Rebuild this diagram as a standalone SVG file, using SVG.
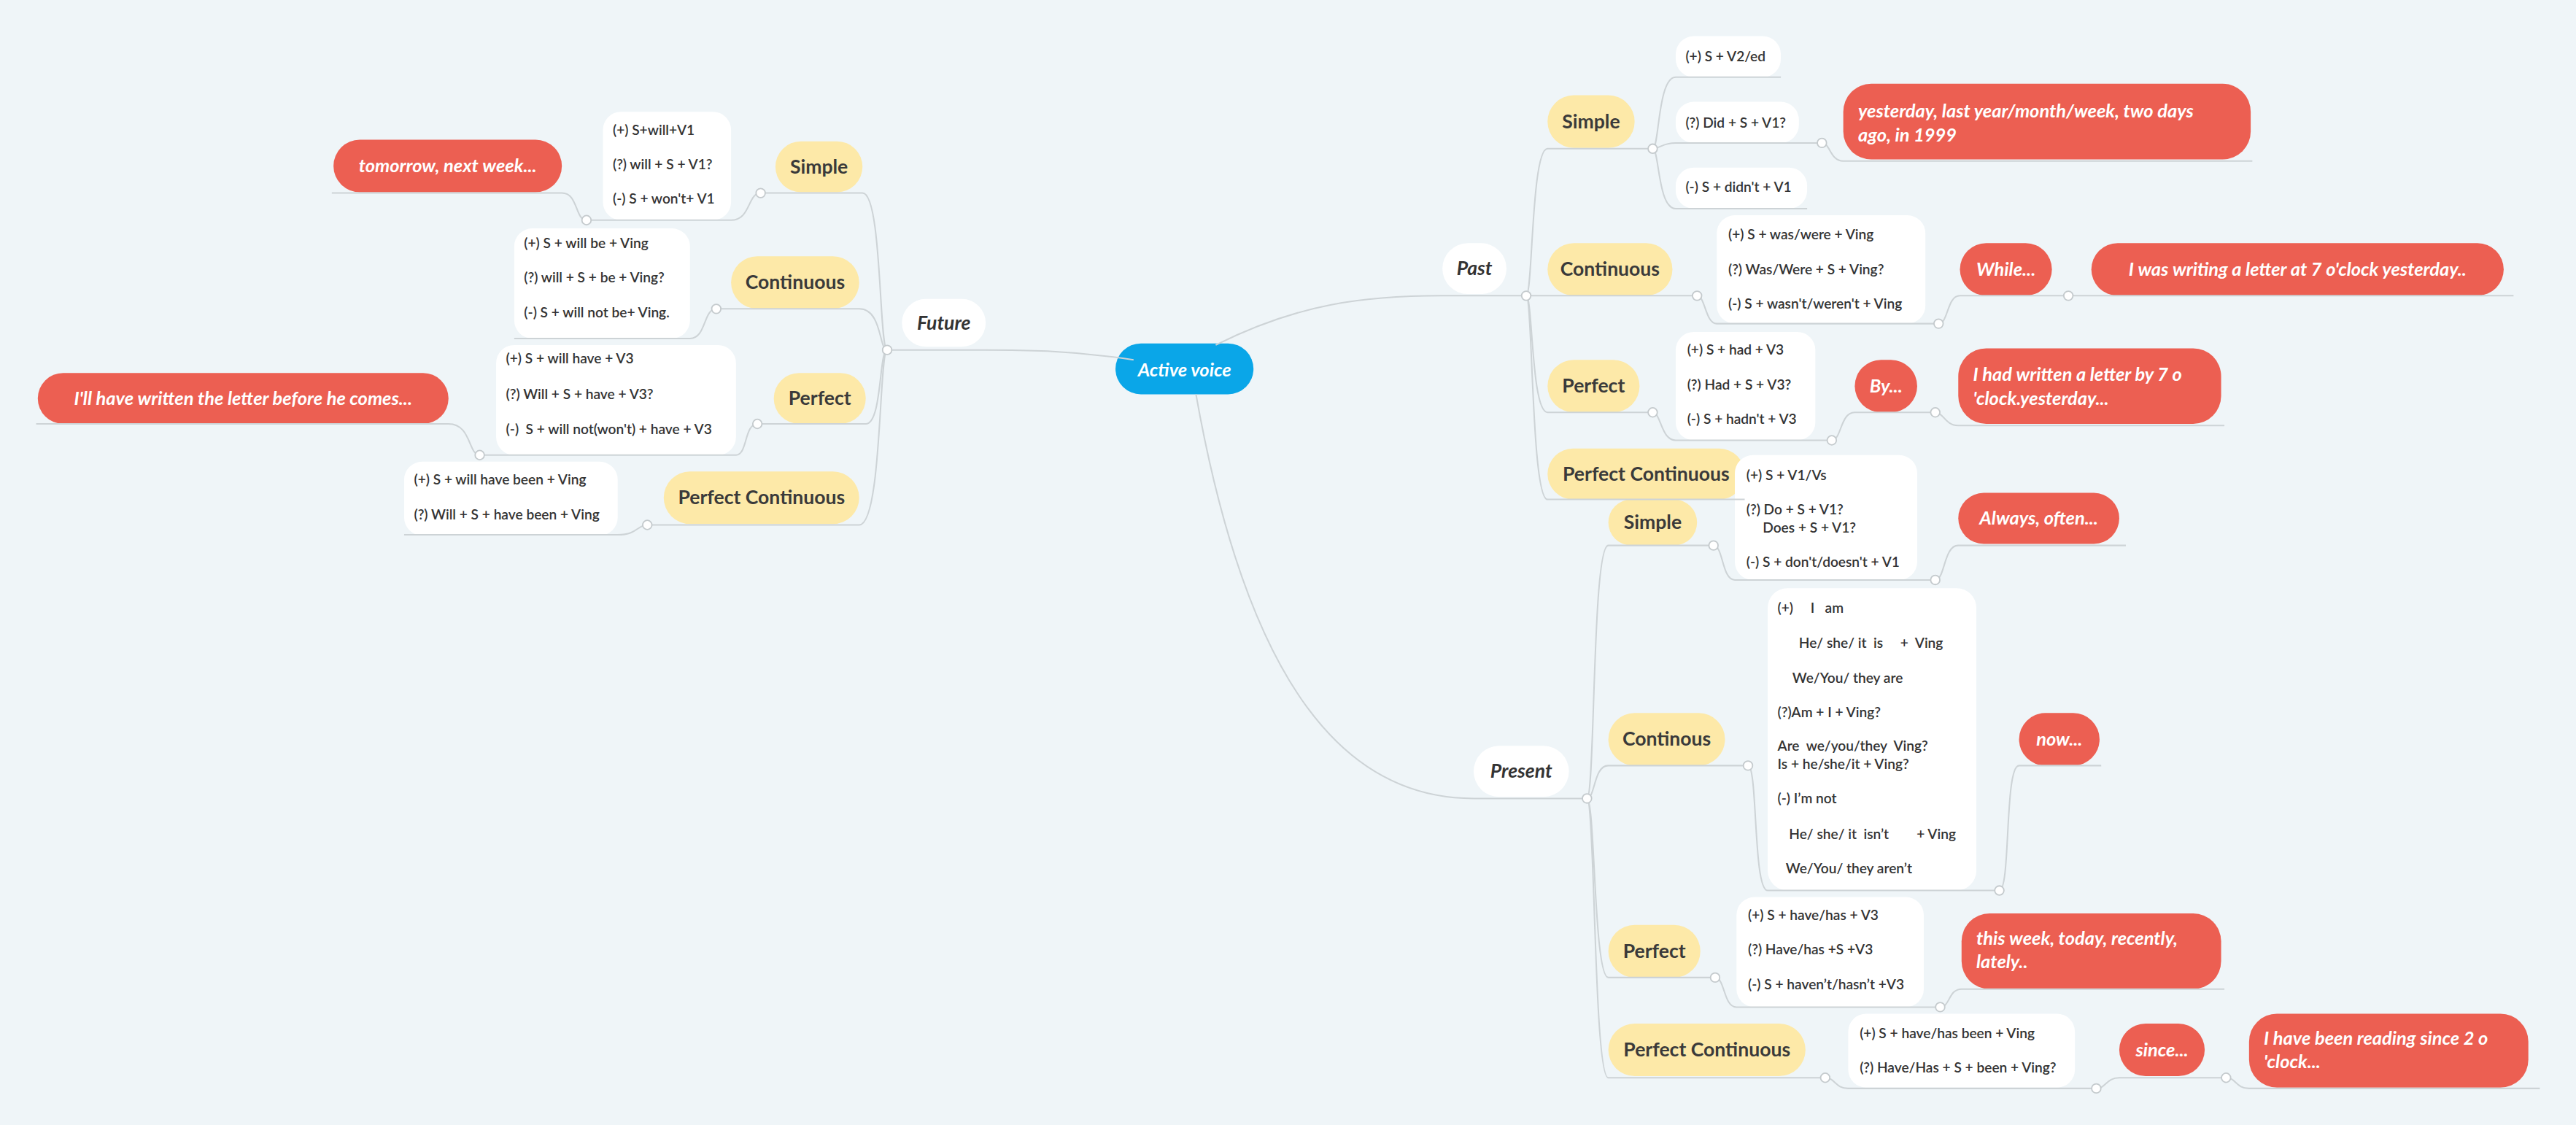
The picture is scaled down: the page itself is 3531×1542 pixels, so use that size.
<svg xmlns="http://www.w3.org/2000/svg" width="3531" height="1542" viewBox="0 0 3531 1542">
<style>
text{font-family:Lato,"Open Sans","Liberation Sans",sans-serif;white-space:pre}
.y{fill:#fde9a8}
.r{fill:#ec5f52}
.w{fill:#ffffff}
.yt{font-size:11.8px;font-weight:700;fill:#3a3a3a;text-anchor:middle}
.rt{font-size:11.3px;font-weight:700;font-style:italic;fill:#ffffff}
.rc{text-anchor:middle}
.ft{font-size:8.5px;font-weight:600;fill:#333333}
.mt{font-size:11.8px;font-weight:700;font-style:italic;fill:#333333;text-anchor:middle}
.c path{fill:none;stroke:#cdd3d6;stroke-width:0.9}
.j circle{fill:#ffffff;stroke:#c4cacd;stroke-width:0.8}
</style>
<rect width="3531" height="1542" fill="#eff5f8"/>
<g transform="scale(2.2519)">
<g id="center"><rect x="679" y="209" width="84" height="31" rx="15.5" fill="#0aa6e8"/><text x="721" y="229" class="rt rc" font-size="12.3">Active voice</text></g>

<g id="future"><rect x="549" y="182" width="51" height="29" rx="14.5" class="w"/><text x="574.5" y="200.5" class="mt">Future</text></g>
<g id="f-simple"><rect x="472" y="86" width="53" height="31" rx="15.5" class="y"/><text x="498.5" y="105.5" class="yt">Simple</text></g>
<g id="f-cont"><rect x="445" y="156" width="78" height="32" rx="16" class="y"/><text x="484" y="176" class="yt">Continuous</text></g>
<g id="f-perf"><rect x="471" y="227" width="56" height="31" rx="15.5" class="y"/><text x="499" y="246.5" class="yt">Perfect</text></g>
<g id="f-pc"><rect x="404" y="287" width="119" height="32" rx="16" class="y"/><text x="463.5" y="307" class="yt">Perfect Continuous</text></g>
<g id="f-simple-f"><rect x="367" y="68" width="78" height="66" rx="11" class="w"/><text x="373" y="82" class="ft">(+) S+will+V1</text><text x="373" y="103" class="ft">(?) will + S + V1?</text><text x="373" y="124" class="ft">(-) S + won't+ V1</text></g>
<g id="f-cont-f"><rect x="313" y="139" width="107" height="67" rx="11" class="w"/><text x="319" y="151" class="ft">(+) S + will be + Ving</text><text x="319" y="172" class="ft">(?) will + S + be + Ving?</text><text x="319" y="193" class="ft">(-) S + will not be+ Ving.</text></g>
<g id="f-perf-f"><rect x="302" y="210" width="146" height="67" rx="11" class="w"/><text x="308" y="221" class="ft">(+) S + will have + V3</text><text x="308" y="243" class="ft">(?) Will + S + have + V3?</text><text x="308" y="264" class="ft">(-)  S + will not(won't) + have + V3</text></g>
<g id="f-pc-f"><rect x="246" y="281" width="130" height="45" rx="11" class="w"/><text x="252" y="295" class="ft">(+) S + will have been + Ving</text><text x="252" y="316" class="ft">(?) Will + S + have been + Ving</text></g>
<g id="f-ex1"><rect x="203" y="85" width="139" height="32" rx="16" class="r"/><text x="272.5" y="105" class="rt rc">tomorrow, next week...</text></g>
<g id="f-ex2"><rect x="23" y="227" width="250" height="31" rx="15.5" class="r"/><text x="148" y="246.5" class="rt rc">I'll have written the letter before he comes...</text></g>

<g id="past"><rect x="878" y="148" width="39" height="31" rx="15.5" class="w"/><text x="897.5" y="167.5" class="mt">Past</text></g>
<g id="p-simple"><rect x="942" y="58" width="53" height="32" rx="16" class="y"/><text x="968.5" y="78" class="yt">Simple</text></g>
<g id="p-cont"><rect x="942" y="148" width="76" height="32" rx="16" class="y"/><text x="980" y="168" class="yt">Continuous</text></g>
<g id="p-perf"><rect x="942" y="219" width="56" height="32" rx="16" class="y"/><text x="970" y="239" class="yt">Perfect</text></g>
<g id="p-pc"><rect x="942" y="273" width="120" height="31" rx="15.5" class="y"/><text x="1002" y="292.5" class="yt">Perfect Continuous</text></g>
<g id="p-s1"><rect x="1020" y="22" width="64" height="25" rx="11" class="w"/><text x="1026" y="37.5" class="ft">(+) S + V2/ed</text></g>
<g id="p-s2"><rect x="1020" y="62" width="75" height="25" rx="11" class="w"/><text x="1026" y="77.5" class="ft">(?) Did + S + V1?</text></g>
<g id="p-s3"><rect x="1020" y="102" width="80" height="25" rx="11" class="w"/><text x="1026" y="117" class="ft">(-) S + didn't + V1</text></g>
<g id="p-cont-f"><rect x="1045" y="131" width="127" height="66" rx="11" class="w"/><text x="1052" y="145.5" class="ft">(+) S + was/were + Ving</text><text x="1052" y="167" class="ft">(?) Was/Were + S + Ving?</text><text x="1052" y="188" class="ft">(-) S + wasn't/weren't + Ving</text></g>
<g id="p-perf-f"><rect x="1020" y="202" width="85" height="66" rx="11" class="w"/><text x="1027" y="216" class="ft">(+) S + had + V3</text><text x="1027" y="237" class="ft">(?) Had + S + V3?</text><text x="1027" y="258" class="ft">(-) S + hadn't + V3</text></g>
<g id="p-ex1"><rect x="1122" y="51" width="248" height="46" rx="17" class="r"/><text x="1131" y="71.5" class="rt">yesterday, last year/month/week, two days</text><text x="1131" y="86" class="rt">ago, in 1999</text></g>
<g id="p-while"><rect x="1193" y="148" width="56" height="32" rx="16" class="r"/><text x="1221" y="168" class="rt rc">While...</text></g>
<g id="p-ex2"><rect x="1273" y="148" width="251" height="32" rx="16" class="r"/><text x="1398.5" y="168" class="rt rc">I was writing a letter at 7 o'clock yesterday..</text></g>
<g id="p-by"><rect x="1129" y="219" width="38" height="32" rx="16" class="r"/><text x="1148" y="239" class="rt rc">By...</text></g>
<g id="p-ex3"><rect x="1192" y="212" width="160" height="46" rx="17" class="r"/><text x="1201" y="232" class="rt">I had written a letter by 7 o</text><text x="1201" y="246.5" class="rt">'clock.yesterday...</text></g>

<g id="present"><rect x="897" y="454" width="58" height="31" rx="15.5" class="w"/><text x="926" y="473.5" class="mt">Present</text></g>
<g id="r-simple"><rect x="979" y="304" width="54" height="28" rx="14" class="y"/><text x="1006" y="322" class="yt">Simple</text></g>
<g id="r-cont"><rect x="979" y="434" width="71" height="32" rx="16" class="y"/><text x="1014.5" y="454" class="yt">Continous</text></g>
<g id="r-perf"><rect x="979" y="563" width="56" height="32" rx="16" class="y"/><text x="1007" y="583" class="yt">Perfect</text></g>
<g id="r-pc"><rect x="979" y="623" width="120" height="32" rx="16" class="y"/><text x="1039" y="643" class="yt">Perfect Continuous</text></g>
<g id="r-simple-f"><rect x="1056" y="277" width="111" height="76" rx="11" class="w"/><text x="1063" y="292" class="ft">(+) S + V1/Vs</text><text x="1063" y="313" class="ft">(?) Do + S + V1?</text><text x="1073" y="324" class="ft">Does + S + V1?</text><text x="1063" y="345" class="ft">(-) S + don't/doesn't + V1</text></g>
<g id="r-cont-f"><rect x="1076" y="358" width="127" height="184" rx="12" class="w"/>
<text x="1082" y="373" class="ft">(+)     I   am</text>
<text x="1095" y="394.5" class="ft">He/ she/ it  is     +  Ving</text>
<text x="1091" y="415.5" class="ft">We/You/ they are</text>
<text x="1082" y="436.5" class="ft">(?)Am + I + Ving?</text>
<text x="1082" y="457" class="ft">Are  we/you/they  Ving?</text>
<text x="1082" y="468" class="ft">Is + he/she/it + Ving?</text>
<text x="1082" y="489" class="ft">(-) I’m not</text>
<text x="1089" y="510.5" class="ft">He/ she/ it  isn’t        + Ving</text>
<text x="1087" y="531.5" class="ft">We/You/ they aren’t</text></g>
<g id="r-perf-f"><rect x="1057" y="546" width="114" height="67" rx="11" class="w"/><text x="1064" y="560" class="ft">(+) S + have/has + V3</text><text x="1064" y="581" class="ft">(?) Have/has +S +V3</text><text x="1064" y="602" class="ft">(-) S + haven’t/hasn’t +V3</text></g>
<g id="r-pc-f"><rect x="1125" y="617" width="138" height="45" rx="11" class="w"/><text x="1132" y="632" class="ft">(+) S + have/has been + Ving</text><text x="1132" y="653" class="ft">(?) Have/Has + S + been + Ving?</text></g>
<g id="r-ex1"><rect x="1192" y="300" width="98" height="31" rx="15.5" class="r"/><text x="1241" y="319.5" class="rt rc">Always, often...</text></g>
<g id="r-now"><rect x="1229" y="434" width="49" height="32" rx="16" class="r"/><text x="1253.5" y="454" class="rt rc">now...</text></g>
<g id="r-ex2"><rect x="1194" y="556" width="158" height="46" rx="17" class="r"/><text x="1203" y="575" class="rt">this week, today, recently,</text><text x="1203" y="589.5" class="rt">lately..</text></g>
<g id="r-since"><rect x="1290" y="623" width="52" height="32" rx="16" class="r"/><text x="1316" y="643" class="rt rc">since...</text></g>
<g id="r-ex3"><rect x="1369" y="617" width="170" height="45" rx="17" class="r"/><text x="1378" y="636" class="rt">I have been reading since 2 o</text><text x="1378" y="650" class="rt">'clock...</text></g>

<g id="connectors" class="c">
<path d="M690,219 C650,213 620,213 600,213 L540,213"/>
<path d="M740,210 C790,185 830,180 878,180 L929,180"/>
<path d="M728,240 C760,420 820,486 897,486 L966,486"/>
<path d="M540,213 C535,213 537,117.5 525,117.5 L463,117.5"/>
<path d="M540,213 C535,213 537,188 523,188 L436,188"/>
<path d="M540,213 C535,213 537,258 527,258 L461,258"/>
<path d="M540,213 C535,213 537,319.5 523,319.5 L394,319.5"/>
<path d="M463,117.5 C455,117.5 457,134 445,134 L357,134"/>
<path d="M357,134 C350,134 352,117.5 342,117.5 L202,117.5"/>
<path d="M436,188 C428,188 430,206 420,206 L313,206"/>
<path d="M461,258 C453,258 455,277 448,277 L292,277"/>
<path d="M292,277 C285,277 287,258 273,258 L22,258"/>
<path d="M394,319.5 C388,319.5 388,325.5 376,325.5 L246,325.5"/>
<path d="M929,180 C933,180 932,90.5 942,90.5 L1006,90.5"/>
<path d="M929,180 L1033,180"/>
<path d="M929,180 C933,180 932,251 942,251 L1006,251"/>
<path d="M929,180 C933,180 932,304 942,304 L1062,304"/>
<path d="M1006,90.5 C1010,90.5 1009,47 1020,47 L1084,47"/>
<path d="M1006,90.5 C1010,90.5 1012,87 1020,87 L1109,87"/>
<path d="M1006,90.5 C1010,90.5 1009,127 1020,127 L1100,127"/>
<path d="M1109,87 C1114,87 1114,98 1122,98 L1371,98"/>
<path d="M1033,180 C1038,180 1038,197 1045,197 L1180,197"/>
<path d="M1180,197 C1186,197 1185,180 1193,180 L1259,180"/>
<path d="M1259,180 L1530,180"/>
<path d="M1006,251 C1011,251 1011,268 1020,268 L1115,268"/>
<path d="M1115,268 C1121,268 1120,251 1129,251 L1178,251"/>
<path d="M1178,251 C1183,251 1184,259 1192,259 L1354,259"/>
<path d="M966,486 C971,486 969,332 979,332 L1043,332"/>
<path d="M966,486 C971,486 970,466 979,466 L1064,466"/>
<path d="M966,486 C971,486 970,595 979,595 L1044,595"/>
<path d="M966,486 C971,486 970,656 979,656 L1111,656"/>
<path d="M1043,332 C1049,332 1048,353 1056,353 L1178,353"/>
<path d="M1178,353 C1184,353 1183,332 1192,332 L1294,332"/>
<path d="M1064,466 C1070,466 1067,542 1076,542 L1217,542"/>
<path d="M1217,542 C1224,542 1220,466 1229,466 L1279,466"/>
<path d="M1044,595 C1050,595 1049,613 1057,613 L1181,613"/>
<path d="M1181,613 C1187,613 1186,602 1194,602 L1354,602"/>
<path d="M1111,656 C1117,656 1117,662.5 1125,662.5 L1276,662.5"/>
<path d="M1276,662.5 C1282,662.5 1282,656 1290,656 L1355,656"/>
<path d="M1355,656 C1361,656 1361,662.5 1369,662.5 L1546,662.5"/>
</g>
<g id="junctions" class="j">
<circle cx="540" cy="213" r="2.8"/><circle cx="463" cy="117.5" r="2.8"/><circle cx="357" cy="134" r="2.8"/><circle cx="436" cy="188" r="2.8"/><circle cx="461" cy="258" r="2.8"/><circle cx="292" cy="277" r="2.8"/><circle cx="394" cy="319.5" r="2.8"/>
<circle cx="929" cy="180" r="2.8"/><circle cx="1006" cy="90.5" r="2.8"/><circle cx="1109" cy="87" r="2.8"/><circle cx="1033" cy="180" r="2.8"/><circle cx="1180" cy="197" r="2.8"/><circle cx="1259" cy="180" r="2.8"/><circle cx="1006" cy="251" r="2.8"/><circle cx="1115" cy="268" r="2.8"/><circle cx="1178" cy="251" r="2.8"/>
<circle cx="966" cy="486" r="2.8"/><circle cx="1043" cy="332" r="2.8"/><circle cx="1178" cy="353" r="2.8"/><circle cx="1064" cy="466" r="2.8"/><circle cx="1217" cy="542" r="2.8"/><circle cx="1044" cy="595" r="2.8"/><circle cx="1181" cy="613" r="2.8"/><circle cx="1111" cy="656" r="2.8"/><circle cx="1276" cy="662.5" r="2.8"/><circle cx="1355" cy="656" r="2.8"/>
</g>
</g>
</svg>
